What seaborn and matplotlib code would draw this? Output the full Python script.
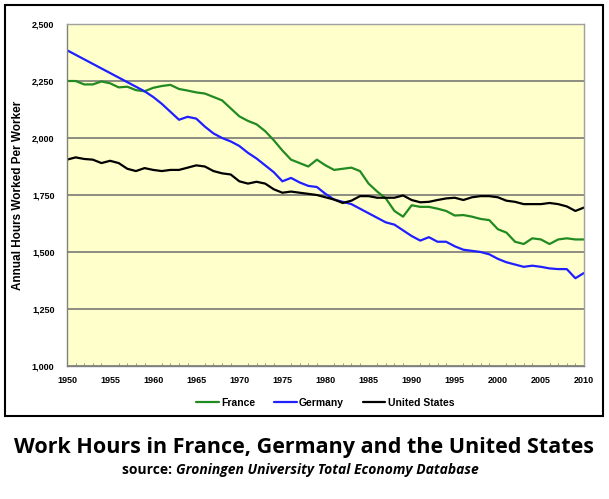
import numpy as np
import pandas as pd
import matplotlib
matplotlib.use("Agg")
import matplotlib.pyplot as plt
import seaborn as sns
from matplotlib.patches import Rectangle
from matplotlib.ticker import MultipleLocator, FuncFormatter

## Data
years = list(range(1950, 2011))

france = [2250, 2250, 2235, 2235, 2248, 2240, 2222, 2225, 2210, 2205,
          2220, 2228, 2233, 2215, 2208, 2200, 2195, 2180, 2165, 2130,
          2095, 2075, 2060, 2030, 1990, 1945, 1905, 1890, 1875, 1905,
          1880, 1860, 1865, 1870, 1855, 1800, 1765, 1735, 1680, 1655,
          1705, 1698, 1698, 1690, 1680, 1660, 1662, 1655, 1645, 1640,
          1600, 1585, 1545, 1535, 1560, 1555, 1535, 1555, 1560, 1555,
          1555]

germany = [2385, 2365, 2345, 2325, 2305, 2285, 2265, 2245, 2225, 2205,
           2180, 2150, 2115, 2080, 2093, 2085, 2050, 2020, 2000, 1985,
           1965, 1935, 1910, 1880, 1850, 1810, 1825, 1805, 1790, 1785,
           1755, 1730, 1720, 1710, 1690, 1670, 1650, 1630, 1620, 1595,
           1570, 1550, 1565, 1545, 1545, 1525, 1510, 1505, 1500, 1490,
           1470, 1455, 1445, 1435, 1440, 1435, 1428, 1425, 1425, 1385,
           1408]

united_states = [1905, 1915, 1908, 1905, 1890, 1900, 1890, 1865, 1855, 1868,
                 1860, 1855, 1860, 1860, 1870, 1880, 1875, 1855, 1845, 1840,
                 1810, 1800, 1808, 1800, 1775, 1760, 1765, 1760, 1755, 1750,
                 1740, 1730, 1715, 1725, 1745, 1745, 1738, 1738, 1738, 1748,
                 1728, 1718, 1720, 1728, 1735, 1738, 1728, 1740, 1745, 1745,
                 1740, 1725, 1720, 1710, 1710, 1710, 1715, 1710, 1700, 1680,
                 1695]

countries = ["France", "Germany", "United States"]
colors = {"France": "#218a21", "Germany": "#1f1fff", "United States": "#000000"}

df = pd.DataFrame({"Year": years * 3,
                   "Hours": france + germany + united_states,
                   "Country": [c for c in countries for _ in years]})

## Plot
sns.set_style("white")
plt.rcParams["text.color"] = "black"
plt.rcParams["axes.labelcolor"] = "black"
plt.rcParams["xtick.color"] = "black"
plt.rcParams["ytick.color"] = "black"

fig = plt.figure(figsize=(6.09, 4.99), dpi=100)
ax = fig.add_axes([67/609, 1 - 366/499, (584-67)/609, (366-24)/499])
ax.set_facecolor("#ffffcc")

sns.lineplot(data=df, x="Year", y="Hours", hue="Country", palette=colors,
             linewidth=1.6, ax=ax)

ax.set_xlim(1950, 2010)
ax.set_ylim(1000, 2500)
ax.xaxis.set_major_locator(MultipleLocator(5))
ax.xaxis.set_minor_locator(MultipleLocator(1))
ax.yaxis.set_major_locator(MultipleLocator(250))
ax.yaxis.set_major_formatter(FuncFormatter(lambda v, p: f"{int(v):,}"))
ax.grid(axis="y", color="#8c8c80", linewidth=1.4)
ax.set_axisbelow(True)
for s in ax.spines.values():
    s.set_color("#a0a0a0")
    s.set_linewidth(1.0)
ax.spines["left"].set_color("#808080")
ax.spines["bottom"].set_color("#808080")
ax.tick_params(axis="both", which="both", color="#808080",
               labelsize=6.5, labelcolor="black", pad=5)
ax.tick_params(axis="x", which="major", length=4, direction="inout")
ax.tick_params(axis="x", which="minor", length=2, direction="in", bottom=True)
ax.tick_params(axis="y", which="major", length=4, direction="out")
ax.set_xlabel("")
ax.set_ylabel("Annual Hours Worked Per Worker", fontsize=8.5, fontweight="bold",
              family="Liberation Sans", labelpad=6)
for lab in ax.get_xticklabels() + ax.get_yticklabels():
    lab.set_fontweight("bold")
    lab.set_family("Liberation Sans")

ax.get_legend().remove()
handles = [plt.Line2D([], [], color=colors[c], lw=1.6) for c in countries]
fig.legend(handles, countries, loc="center", bbox_to_anchor=(325/609, 1 - 403/499),
           ncol=3, frameon=False, handlelength=2.2, handletextpad=0.2,
           columnspacing=1.8, prop={"family": "Liberation Sans", "weight": "bold", "size": 7.5})

# border around the chart
fig.patches.append(Rectangle((5/609, 1 - 416/499), 598/609, 411/499,
                             transform=fig.transFigure, fill=False,
                             edgecolor="black", linewidth=1.5))

fig.text(0.5, 1 - 447/499, "Work Hours in France, Germany and the United States",
         ha="center", va="center", fontsize=15.5, fontweight="bold",
         family="Open Sans", color="black")
split = 176/609
fig.text(split, 1 - 470/499, "source: ", ha="right", va="center", fontsize=10,
         fontweight="bold", family="Open Sans", color="black")
fig.text(split, 1 - 470/499, "Groningen University Total Economy Database",
         ha="left", va="center", fontsize=10, fontweight="bold", style="italic",
         family="Open Sans", color="black")

fig.savefig("out.png", dpi=100, facecolor="white")
